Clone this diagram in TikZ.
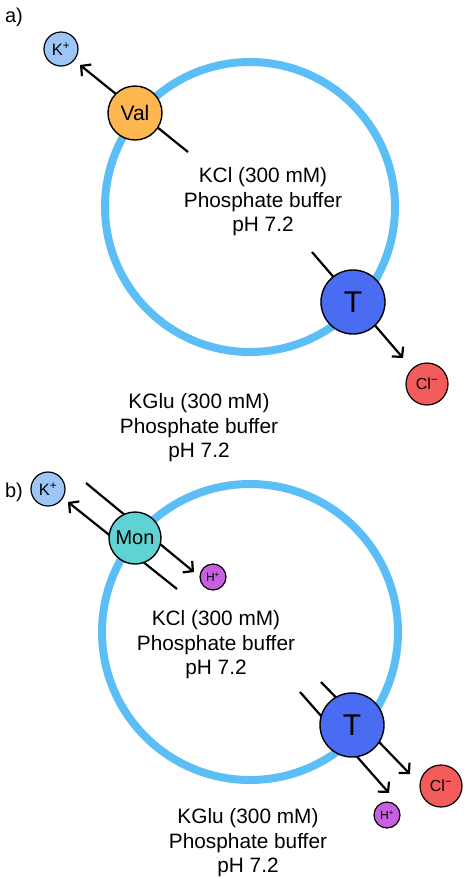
\documentclass[tikz,border=0pt]{standalone}
\usepackage{fontspec}
\setmainfont{Liberation Sans}
\usetikzlibrary{arrows.meta}
\definecolor{ringblue}{HTML}{5BBEF6}
\definecolor{kblue}{HTML}{9DC6F7}
\definecolor{valorange}{HTML}{FDB74E}
\definecolor{tblue}{HTML}{4A6CF2}
\definecolor{clred}{HTML}{F45B5B}
\definecolor{monteal}{HTML}{5FD3D3}
\definecolor{hpurple}{HTML}{C660E0}
\tikzset{
  ring/.style={draw=ringblue, line width=8pt},
  prot/.style={draw, circle, line width=1.4pt, inner sep=0pt},
  ion/.style={draw, circle, line width=1.2pt, inner sep=0pt},
  arr/.style={-{Straight Barb[length=7pt,width=15pt]}, line width=2.2pt},
  sol/.style={align=center, font=\fontsize{20.8}{24.5}\selectfont},
  panel/.style={font=\fontsize{20}{24}\selectfont},
}

\begin{document}
\begin{tikzpicture}[x=1pt,y=-1pt]
\useasboundingbox (0,0) rectangle (474,879);
% panel a
\node[panel] (la) at (14,17) {a)};
\coordinate (ca) at (250,207);
\draw[ring] (ca) circle (145pt);
\coordinate (va1) at (188,152); \coordinate (va2) at (80,65);
\coordinate (ta1) at (312,252); \coordinate (ta2) at (403,358);
\draw[arr] (va1) -- (va2); \draw[arr] (ta1) -- (ta2);
\node[ion, fill=kblue, minimum size=34pt, font=\fontsize{16.5}{18}\selectfont] (ka) at (61,49) {K\textsuperscript{+}};
\node[prot, fill=valorange, minimum size=54pt, font=\fontsize{21}{24}\selectfont] (vala) at (135,113) {Val};
\node[prot, fill=tblue, minimum size=64pt, font=\fontsize{30}{32}\selectfont] (ta) at (353,302) {T};
\node[ion, fill=clred, minimum size=42pt, font=\fontsize{16}{18}\selectfont] (cla) at (427,384) {Cl\textsuperscript{−}};
\node[sol] (ina) at (263,202) {KCl (300 mM)\\Phosphate buffer\\pH 7.2};
\node[sol] (outa) at (199,428) {KGlu (300 mM)\\Phosphate buffer\\pH 7.2};
% panel b
\node[panel] (lb) at (14,492) {b)};
\coordinate (cb) at (250,632);
\draw[ring] (cb) circle (148pt);
\coordinate (mb1) at (86,483); \coordinate (mb2) at (194,572);
\coordinate (mb3) at (177,589); \coordinate (mb4) at (68,502);
\coordinate (tb1) at (321,682); \coordinate (tb2) at (410,774);
\coordinate (tb3) at (300,692); \coordinate (tb4) at (389,793);
\draw[arr] (mb1) -- (mb2); \draw[arr] (mb3) -- (mb4);
\draw[arr] (tb1) -- (tb2); \draw[arr] (tb3) -- (tb4);
\node[ion, fill=kblue, minimum size=34pt, font=\fontsize{16.5}{18}\selectfont] (kb) at (48,489) {K\textsuperscript{+}};
\node[prot, fill=monteal, minimum size=52pt, font=\fontsize{20}{24}\selectfont] (monb) at (135,538) {Mon};
\node[ion, fill=hpurple, minimum size=26pt, font=\fontsize{12}{14}\selectfont] (hb1) at (213,577) {H\textsuperscript{+}};
\node[prot, fill=tblue, minimum size=64pt, font=\fontsize{30}{32}\selectfont] (tb) at (352,725) {T};
\node[ion, fill=hpurple, minimum size=26pt, font=\fontsize{12}{14}\selectfont] (hb2) at (387,815) {H\textsuperscript{+}};
\node[ion, fill=clred, minimum size=42pt, font=\fontsize{16}{18}\selectfont] (clb) at (441,786) {Cl\textsuperscript{−}};
\node[sol] (inb) at (216,645) {KCl (300 mM)\\Phosphate buffer\\pH 7.2};
\node[sol] (outb) at (248,843) {KGlu (300 mM)\\Phosphate buffer\\pH 7.2};
\end{tikzpicture}
\end{document}
